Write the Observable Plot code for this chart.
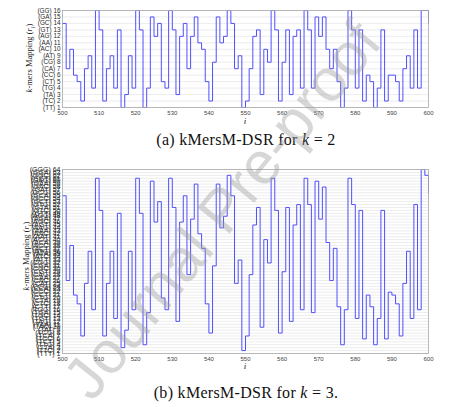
<!DOCTYPE html>
<html>
<head>
<meta charset="utf-8">
<script src="https://cdn.jsdelivr.net/npm/d3@7"></script>
<script src="https://cdn.jsdelivr.net/npm/@observablehq/plot@0.6"></script>
<style>
  html, body { margin: 0; padding: 0; background: #fff; }
  #wrap { position: relative; width: 474px; height: 407px; overflow: hidden; background: #fff; }
  .panel { position: absolute; left: 0; }
  .cap { position: absolute; left: 246px; transform: translate(-50%, -50%); white-space: nowrap;
         font-family: "Liberation Serif", "DejaVu Serif", serif; font-size: 16px; color: #111; letter-spacing: 0.3px; }
  .ylab { position: absolute; transform: translate(-50%, -50%) rotate(-90deg); white-space: nowrap;
          font-family: "Liberation Serif", serif; font-size: 8.5px; color: #222; }
  .xlab { position: absolute; transform: translate(-50%, -50%); font-family: "Liberation Serif", serif;
          font-style: italic; font-size: 9px; color: #222; }
  #wm { position: absolute; left: 0; top: 0; pointer-events: none; }
</style>
</head>
<body>
<div id="wrap"></div>
<script>
// ---------- data ----------
const iStart = 500;
const xTicks = [500, 510, 520, 530, 540, 550, 560, 570, 580, 590, 600];

const mers2 = ["TT","TC","TA","TG","CT","CC","CA","CG","AT","AC","AA","AG","GT","GC","GA","GG"];

const mers3 = [
  "TTT","TTC","TTA","TTG","TCT","TCC","TCA","TCG","TAT","TAC","TAA","TAG","TGT","TGC","TGA","TGG",
  "CTT","CTC","CTA","CTG","CCT","CCC","CCA","CCG","CAT","CAC","CAA","CAG","CGT","CGC","CGA","CGG",
  "ATT","ATC","ATA","ATG","ACT","ACC","ACA","ACG","AAT","AAC","AAA","AAG","AGT","AGC","AGA","AGG",
  "GTT","GTC","GTA","GTG","GCT","GCC","GCA","GCG","GAT","GAC","GAA","GAG","GGT","GGC","GGA","GGG"
];

// k = 2 mapping, i = 500 ... 600
const k2Values = [
  14, 7,10, 6, 5, 2, 7, 9, 4,16,
  13, 2, 7, 9, 4,13, 1, 3, 9, 4,
  16,13, 1, 4,15,12,14, 5, 4,16,
  13, 3,12,14, 7,12,15,11,10, 5,
   2, 8,15,11,12,16,14, 7, 9, 1,
   2, 7,12,13, 3,10, 8,16,13, 2,
   8,13, 3,12,13, 4,16,13, 4,15,
  12,15,10, 7,10, 5, 1, 4,16,13,
   4,13, 2, 6, 5, 1, 4,13, 2, 6,
   6, 5, 2, 7, 9, 4,13, 4,16,16,
  14
];

// k = 3 mapping, i = 500 ... 600
const k3Values = [
  55,26,38,21,18, 7,25,36,16,61,
  50, 7,25,36,13,49, 3, 9,36,16,
  61,49, 4,15,60,46,53,20,16,61,
  51,12,46,55,28,47,59,42,37,18,
   8,31,59,44,48,62,55,25,33, 2,
   7,28,45,51,10,40,32,61,50, 8,
  29,51,12,45,52,16,61,52,15,60,
  47,58,39,26,37,17, 4,16,61,52,
  13,50, 6,21,17, 4,13,50, 6,22,
  21,18, 7,25,36,13,52,16,64,62,
  56
];

// ---------- drawing ----------
const wrap = document.getElementById("wrap");

function rows(values) {
  return values.map((v, j) => ({ i: iStart + j, r: v }));
}

function panel(values, codes, top, height, marginTop, marginBottom, labelSize) {
  const n = codes.length;
  const yTicks = codes.map((c, j) => j + 1);
  const chart = Plot.plot({
    width: 474,
    height,
    marginLeft: 62,
    marginRight: 46,
    marginTop,
    marginBottom,
    style: { fontFamily: "'Liberation Sans', Arial, sans-serif", fontSize: "6px", color: "#262626", background: "transparent", overflow: "visible" },
    x: { domain: [500, 600] },
    y: { domain: [1, n] },
    marks: [
      Plot.gridY(yTicks, { stroke: "#e4e4e4", strokeOpacity: 1, strokeWidth: 0.7 }),
      Plot.line(rows(values), { x: "i", y: "r", curve: "step-after", stroke: "#5050ff", strokeWidth: 1 }),
      Plot.frame({ stroke: "#a8a8a8", strokeWidth: 0.8 }),
      Plot.axisX(xTicks, { anchor: "bottom", tickSize: 0, tickPadding: 3, label: null, fontSize: 6, fill: "#444" }),
      Plot.axisY(yTicks, { anchor: "left", tickSize: 0, tickPadding: 2, label: null, fontSize: labelSize, fill: "#2a2a2a",
                           tickFormat: d => `(${codes[d - 1]}) ${d}` })
    ]
  });
  chart.classList.add("panel");
  chart.style.top = top + "px";
  wrap.appendChild(chart);
}

panel(k2Values, mers2, 0, 127, 10, 20, 6.4);
panel(k3Values, mers3, 160, 215, 9, 22, 7);

function html(cls, inner, x, y) {
  const d = document.createElement("div");
  d.className = cls;
  d.innerHTML = inner;
  if (x != null) d.style.left = x + "px";
  d.style.top = y + "px";
  wrap.appendChild(d);
}

html("ylab", "<i>k</i>-mers Mapping (<i>r</i><sub style='font-size:6px'><i>i</i></sub>)", 30, 58);
html("ylab", "<i>k</i>-mers Mapping (<i>r</i><sub style='font-size:6px'><i>i</i></sub>)", 27, 256);
html("xlab", "i", 245, 121);
html("xlab", "i", 245, 366);
html("cap", "(a) kMersM-DSR for <i>k</i> = 2", null, 140);
html("cap", "(b) kMersM-DSR for <i>k</i> = 3.", null, 393);

// watermark
const ns = "http://www.w3.org/2000/svg";
const wm = document.createElementNS(ns, "svg");
wm.setAttribute("id", "wm");
wm.setAttribute("width", 474);
wm.setAttribute("height", 407);
const t = document.createElementNS(ns, "text");
t.setAttribute("transform", "translate(222,210) rotate(-51)");
t.setAttribute("text-anchor", "middle");
t.setAttribute("dominant-baseline", "central");
t.setAttribute("font-family", "'Liberation Sans', Arial, sans-serif");
t.setAttribute("font-size", "60");
t.setAttribute("fill", "#a0a0a0");
t.setAttribute("fill-opacity", "0.42");
t.textContent = "Journal Pre-proof";
wm.appendChild(t);
wrap.appendChild(wm);
</script>
</body>
</html>
